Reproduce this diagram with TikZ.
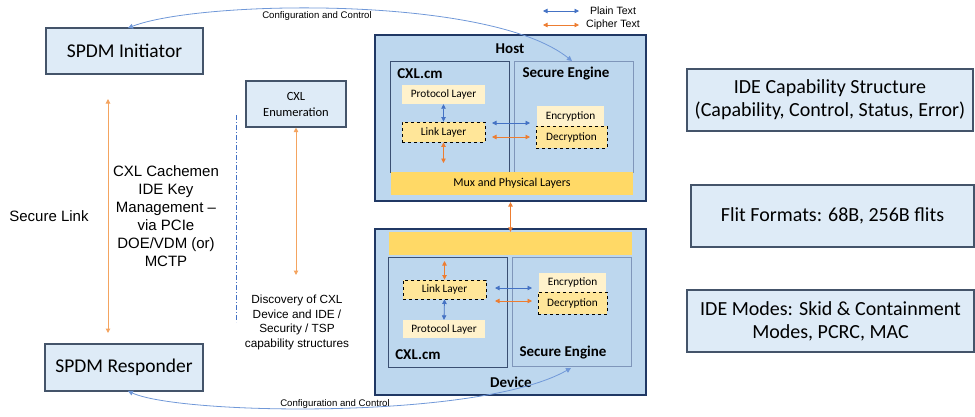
\documentclass[tikz,border=0pt]{standalone}
\usepackage{fontspec}
\setmainfont{Carlito}
\newfontfamily\arialf{Liberation Sans}
\usetikzlibrary{arrows.meta}
\definecolor{boxfill}{HTML}{DEEBF7}
\definecolor{boxline}{HTML}{44546A}
\definecolor{hostfill}{HTML}{BDD7EE}
\definecolor{hostline}{HTML}{203864}
\definecolor{cmline}{HTML}{3A4F72}
\definecolor{seline}{HTML}{7F96BA}
\definecolor{lightyel}{HTML}{FFF2CC}
\definecolor{midyel}{HTML}{FFE699}
\definecolor{muxyel}{HTML}{FFD966}
\definecolor{pblue}{HTML}{4472C4}
\definecolor{corange}{HTML}{ED7D31}
\definecolor{lorange}{HTML}{F4A460}
\definecolor{curveblue}{HTML}{7098D8}
\tikzset{
  sz/.style 2 args={minimum width=#1pt, minimum height=#2pt},
  sbox/.style={draw=boxline, line width=1.1pt, fill=boxfill, inner sep=0pt, align=center},
  hostbox/.style={draw=hostline, line width=2.2pt, fill=hostfill, inner sep=0pt},
  cmbox/.style={draw=cmline, line width=1pt, fill=hostfill, inner sep=0pt},
  sebox/.style={draw=seline, line width=1pt, fill=hostfill, inner sep=0pt},
  layerbox/.style={fill=lightyel, inner sep=0pt, font=\fontsize{11.3}{13}\selectfont},
  dashbox/.style={fill=midyel, draw=black, dashed, line width=0.9pt, inner sep=0pt, font=\fontsize{11.3}{13}\selectfont},
  muxbox/.style={fill=muxyel, inner sep=0pt, font=\fontsize{12}{14}\selectfont},
  btitle/.style={font=\bfseries\fontsize{15}{17}\selectfont, inner sep=0pt},
  barrow/.style={{Triangle[length=4.5pt,width=4.5pt]}-{Triangle[length=4.5pt,width=4.5pt]}, pblue, line width=0.8pt},
  oarrow/.style={{Triangle[length=4.5pt,width=4.5pt]}-{Triangle[length=4.5pt,width=4.5pt]}, corange, line width=0.8pt},
  larrow/.style={{Triangle[length=4.5pt,width=4.5pt]}-{Triangle[length=4.5pt,width=4.5pt]}, lorange, line width=1pt},
  carrow/.style={{Triangle[length=5pt,width=5pt]}-{Triangle[length=5pt,width=5pt]}, curveblue, line width=0.8pt},
  atext/.style={font=\arialf\fontsize{15}{18}\selectfont, align=center, inner sep=0pt},
}
\begin{document}
\begin{tikzpicture}[x=1pt,y=-1pt]
\useasboundingbox (0,0) rectangle (975,416);

% left side
\node[sbox, sz={157}{46}, font=\fontsize{19.5}{23}\selectfont] (init) at (124.5,51) {SPDM Initiator};
\node[sbox, sz={158}{47}, font=\fontsize{19.5}{23}\selectfont] (resp) at (124,367.5) {SPDM Responder};
\node[sbox, sz={100}{46}, font=\fontsize{12.5}{15}\selectfont] (enum) at (296,104) {CXL\\[1pt]Enumeration};

\node[atext] (slink) at (49,216) {Secure Link};
\node[atext] (keymgmt) at (166,216) {CXL Cachemen\\IDE Key\\Management –\\via PCIe\\DOE/VDM (or)\\MCTP};
\node[font=\arialf\fontsize{11.8}{14.4}\selectfont, align=center, inner sep=0pt] (disc) at (297,322.5) {Discovery of CXL\\Device and IDE /\\Security / TSP\\capability structures};

\coordinate (la) at (108,99);
\coordinate (lb) at (108,333);
\draw[larrow] (la) -- (lb);
\coordinate (eb) at (296,275);
\draw[larrow] (enum.south) -- (eb);
\coordinate (dda) at (236,115);
\coordinate (ddb) at (236,322);
\draw[pblue, line width=0.8pt, dash pattern=on 5pt off 2pt on 1pt off 2pt] (dda) -- (ddb);

% legend
\coordinate (lg1a) at (543,11); \coordinate (lg1b) at (579,11);
\coordinate (lg2a) at (543,25); \coordinate (lg2b) at (579,25);
\draw[barrow] (lg1a) -- (lg1b);
\draw[oarrow] (lg2a) -- (lg2b);
\node[font=\arialf\fontsize{10.6}{12}\selectfont, inner sep=0pt] (lgp) at (613,11) {Plain Text};
\node[font=\arialf\fontsize{10.6}{12}\selectfont, inner sep=0pt] (lgc) at (613,25) {Cipher Text};

% Host
\node[hostbox, sz={271}{166}] (host) at (510.5,118) {};
\node[btitle] (hostlbl) at (510,49) {Host};
\node[cmbox, sz={119}{111}] (hcm) at (449.5,116.5) {};
\node[sebox, sz={119}{111}] (hse) at (573.5,116.5) {};
\node[btitle] (hcmlbl) at (420,74) {CXL.cm};
\node[btitle] (hselbl) at (566,74) {Secure Engine};
\node[layerbox, sz={83}{19}] (hprot) at (443.5,94.5) {Protocol Layer};
\node[dashbox, sz={83}{20}] (hlink) at (443.5,132) {Link Layer};
\node[layerbox, sz={67}{20}] (henc) at (570.5,116) {Encryption};
\node[dashbox, sz={71}{22}] (hdec) at (571.5,137) {Decryption};
\node[muxbox, sz={242}{23}] (mux) at (512,183.5) {Mux and Physical Layers};
\draw[barrow] (hprot.south) -- (hlink.north);
\coordinate (hlo) at (443.5,163);
\draw[oarrow] (hlink.south) -- (hlo);
\coordinate (hba) at (492,123); \coordinate (hbb) at (530,123);
\coordinate (hoa) at (492,137); \coordinate (hob) at (530,137);
\draw[barrow] (hba) -- (hbb);
\draw[oarrow] (hoa) -- (hob);

% Device
\node[hostbox, sz={271}{166}] (dev) at (510.5,312) {};
\node[muxbox, sz={243}{23}] (dbar) at (510.5,243.5) {};
\node[cmbox, sz={119}{110}] (dcm) at (447.5,312) {};
\node[sebox, sz={119}{109}] (dse) at (571.5,311.5) {};
\node[btitle] (dcmlbl) at (418,355) {CXL.cm};
\node[btitle] (dselbl) at (563,353) {Secure Engine};
\node[btitle] (devlbl) at (511,382) {Device};
\node[dashbox, sz={83}{19}] (dlink) at (444.5,289.5) {Link Layer};
\node[layerbox, sz={82}{18}] (dprot) at (444,329) {Protocol Layer};
\node[layerbox, sz={67}{19}] (denc) at (572.5,282.5) {Encryption};
\node[dashbox, sz={69}{22}] (ddec) at (572.5,303) {Decryption};
\coordinate (dlo) at (444.5,261);
\draw[oarrow] (dlo) -- (dlink.north);
\draw[barrow] (dlink.south) -- (dprot.north);
\coordinate (dba) at (495,288); \coordinate (dbb) at (532,288);
\coordinate (doa) at (495,301); \coordinate (dob) at (532,301);
\draw[barrow] (dba) -- (dbb);
\draw[oarrow] (doa) -- (dob);

% host-device link
\draw[oarrow] (host.south) -- (dbar.north);

% configuration curves
\coordinate (ita) at (128,28);
\coordinate (hsa) at (572,61);
\draw[carrow] (ita) .. controls (200,0) and (490,-5) .. (hsa);
\node[font=\arialf\fontsize{9.6}{11}\selectfont, inner sep=0pt] (cfgtop) at (317,16) {Configuration and Control};
\coordinate (rsa) at (128,391);
\coordinate (dsa) at (571,368);
\draw[carrow] (rsa) .. controls (180,415) and (480,420) .. (dsa);
\node[font=\arialf\fontsize{9.6}{11}\selectfont, inner sep=0pt] (cfgbot) at (335,404) {Configuration and Control};

% right boxes
\node[sbox, sz={286}{62}, font=\fontsize{20}{23}\selectfont] (r1) at (830,100) {IDE Capability Structure\\(Capability, Control, Status, Error)};
\node[sbox, sz={283}{62}, font=\fontsize{20}{23}\selectfont] (r2) at (832.5,216) {Flit Formats: 68B, 256B flits};
\node[sbox, sz={287}{62}, font=\fontsize{20}{23}\selectfont] (r3) at (830.5,321) {IDE Modes: Skid \& Containment\\Modes, PCRC, MAC};
\end{tikzpicture}
\end{document}
